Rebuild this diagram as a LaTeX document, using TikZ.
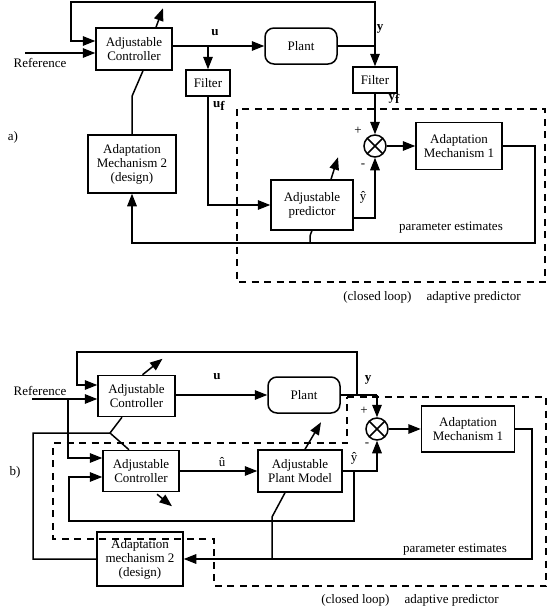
\documentclass[tikz,border=0pt]{standalone}
\usepackage{fontspec}
\setmainfont{Liberation Serif}
\usetikzlibrary{arrows.meta}

\begin{document}
\begin{tikzpicture}[x=1pt, y=-1pt,
  >={Triangle[length=12.5pt, width=9.5pt]},
  blk/.style 2 args={
    draw, line width=1.5pt, minimum width=#1, minimum height=#2,
    align=center, inner sep=1pt, font=\fontsize{13}{14}\selectfont
  },
  plantbox/.style={blk={72pt}{36pt}, rounded corners=9pt},
  sumnode/.style={
    draw, circle, line width=1.5pt, minimum size=22pt, inner sep=0pt,
    path picture={\draw[line width=1.5pt]
      (path picture bounding box.north west) -- (path picture bounding box.south east)
      (path picture bounding box.south west) -- (path picture bounding box.north east);}
  },
  arr/.style={->, line width=1.5pt},
  link/.style={line width=1.5pt, line join=miter},
  sig/.style={font=\fontsize{13}{14}\selectfont\bfseries},
  note/.style={font=\fontsize{13}{14}\selectfont},
  dashbox/.style={line width=1.5pt, dash pattern=on 7pt off 5.5pt},
]

% Background
\fill[white] (0,0) rectangle (548,608);
\useasboundingbox (0,0) rectangle (548,608);

% =============================================
% a) adaptive predictor with filters
% =============================================
\node[blk={76pt}{42pt}] (ctrlA) at (134,49) {Adjustable\\Controller};
\node[plantbox] (plantA) at (301,46) {Plant};
\node[blk={44pt}{26pt}] (filtU) at (208,83) {Filter};
\node[blk={44pt}{26pt}] (filtY) at (375,80) {Filter};
\node[sumnode] (sumA) at (375,146) {};
\node[blk={86pt}{47pt}] (amA1) at (459,146) {Adaptation\\Mechanism 1};
\node[blk={82pt}{50pt}] (predA) at (312,205) {Adjustable\\predictor};
\node[blk={88pt}{58pt}] (amA2) at (132,164) {Adaptation\\Mechanism 2\\(design)};

% Reference input
\coordinate (refA) at (25,53);
\draw[arr] (refA) -- (refA -| ctrlA.west);
\node[note] (refLblA) at (40,63) {Reference};

% Plant loop
\coordinate (yA) at (filtY.north |- plantA.east);
\coordinate (topA1) at (375,2);
\coordinate (topA2) at (71,2);
\draw[link] (plantA.east) -- (yA);
\draw[arr] (yA) -- (filtY.north);
\draw[arr] (yA) -- (topA1) -- (topA2) |- ([yshift=8pt]ctrlA.west);
\draw[arr] (ctrlA.east |- plantA.west) -- (plantA.west);
\coordinate (uA) at (filtU.north |- plantA.west);
\draw[arr] (uA) -- (filtU.north);
\draw[arr] ([xshift=22pt]ctrlA.north) -- ++(7,-19);

% Predictor and error
\draw[arr] (filtU.south) |- (predA.west);
\draw[arr] (filtY.south) -- (sumA.north);
\draw[arr] ([yshift=-13pt]predA.east) -| (sumA.south);
\draw[arr] (sumA.east) -- (amA1.west);
\draw[arr] ([xshift=19pt]predA.north) -- ++(7,-22);

% Parameter estimates
\coordinate (peA1) at (535,243);
\coordinate (peA2) at (310,243);
\draw[arr] (amA1.east) -| (peA1) -| (amA2.south);
\draw[link] (predA.south) .. controls (310,235) .. (peA2);
\draw[link] (amA2.north) -- ++(0,-38) -- ([xshift=9pt]ctrlA.south);

% Labels
\node[sig] (uLblA) at (215,33) {u};
\node[sig] (yLblA) at (380,29) {y};
\node[sig] (ufLblA) at (219,106) {u\raisebox{-3pt}{f}};
\node[sig] (yfLblA) at (394,99) {y\raisebox{-3pt}{f}};
\node[note] (plusA) at (358,131) {+};
\node[note] (minusA) at (363,166) {-};
\node[note] (yhLblA) at (363,197) {\^{y}};
\node[note] (peLblA) at (451,228) {parameter estimates};
\node[note] (capA) at (432,297) {(closed loop)\hspace{15pt}adaptive predictor};
\node[note] (tagA) at (13,137) {a)};
\draw[dashbox] (237,109) rectangle (545,282);

% =============================================
% b) adaptive predictor with plant model
% =============================================
\node[blk={77pt}{41pt}] (ctrlB1) at (136.5,396) {Adjustable\\Controller};
\node[plantbox] (plantB) at (304,395) {Plant};
\node[sumnode] (sumB) at (377,429) {};
\node[blk={93pt}{46pt}] (amB1) at (468,429) {Adaptation\\Mechanism 1};
\node[blk={76pt}{41pt}] (ctrlB2) at (141,471) {Adjustable\\Controller};
\node[blk={84pt}{42pt}] (modelB) at (300,471) {Adjustable\\Plant Model};
\node[blk={86pt}{54pt}] (amB2) at (140,559) {Adaptation\\mechanism 2\\(design)};

% Reference input
\coordinate (refB1) at (32,399);
\coordinate (refB2) at (68,399);
\draw[arr] (refB1) -- (refB1 -| ctrlB1.west);
\draw[arr] (refB2) |- ([yshift=13pt]ctrlB2.west);
\node[note] (refLblB) at (40,391) {Reference};

% Plant loop
\coordinate (yB) at (sumB.north |- plantB.east);
\coordinate (fbB1) at (357,395);
\coordinate (fbB2) at (357,352);
\coordinate (fbB3) at (77,352);
\draw[link] (plantB.east) -- (yB);
\draw[arr] (yB) -- (sumB.north);
\draw[arr] (fbB1) -- (fbB2) -- (fbB3) |- ([yshift=11pt]ctrlB1.west);
\draw[arr] (ctrlB1.east |- plantB.west) -- (plantB.west);
\draw[arr] ([xshift=6pt]ctrlB1.north) -- ++(20,-16);

% Model loop
\draw[arr] (ctrlB2.east |- modelB.west) -- (modelB.west);
\draw[arr] ([xshift=5pt]modelB.north) -- ++(16,-27);
\draw[arr] (modelB.east) -| (sumB.south);
\draw[arr] (sumB.east) -- (amB1.west);
\coordinate (yhB1) at (354,471);
\coordinate (yhB2) at (354,521);
\coordinate (yhB3) at (69,521);
\draw[arr] (yhB1) -- (yhB2) -- (yhB3) |- ([yshift=-6pt]ctrlB2.west);
\draw[arr] ([xshift=16pt,yshift=-2pt]ctrlB2.south) -- ++(15,12);

% Parameter estimates
\coordinate (peB1) at (532,559);
\coordinate (peB2) at (272,517);
\coordinate (peB3) at (272,559);
\draw[arr] (amB1.east) -| (peB1) -- (amB2.east);
\draw[link] ([xshift=-15pt]modelB.south) -- (peB2) -- (peB3);
\coordinate (adB1) at (33,433);
\coordinate (adB2) at (110,433);
\draw[link] (amB2.west) -| (adB1) -- (adB2) -- ([xshift=-14.5pt]ctrlB1.south);
\draw[link] (adB2) -- ([xshift=-12pt]ctrlB2.north);

% Labels
\node[sig] (uLblB) at (217,377) {u};
\node[sig] (yLblB) at (368,380) {y};
\node[note] (uhLblB) at (222,462) {\^{u}};
\node[note] (yhLblB) at (354,458) {\^{y}};
\node[note] (plusB) at (364,411) {+};
\node[note] (minusB) at (367,445) {-};
\node[note] (peLblB) at (455,550) {parameter estimates};
\node[note] (capB) at (410,600) {(closed loop)\hspace{15pt}adaptive predictor};
\node[note] (tagB) at (15,472) {b)};
\draw[dashbox] (347,397) -- (546,397) -- (546,586) -- (214,586) -- (214,539)
  -- (53,539) -- (53,443) -- (347,443) -- cycle;

\end{tikzpicture}
\end{document}
